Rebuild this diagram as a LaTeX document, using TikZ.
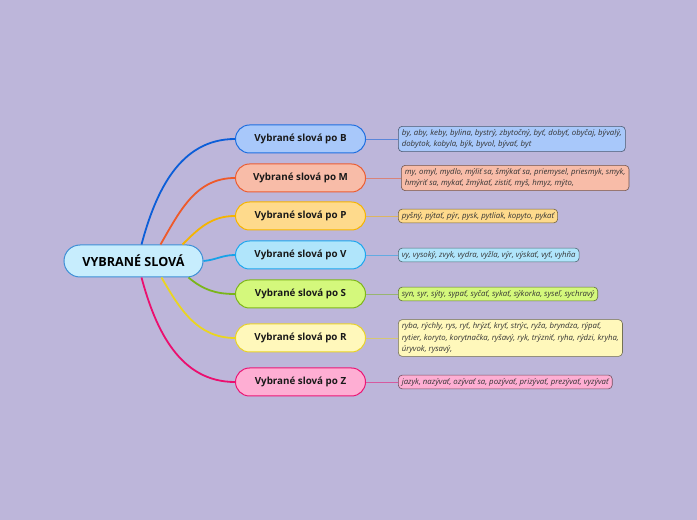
\documentclass[tikz,border=0pt]{standalone}
\usepackage{fontspec}
\setmainfont{Open Sans}
\usetikzlibrary{positioning}

\definecolor{bgcol}{HTML}{BDB6DA}
\definecolor{rootfill}{HTML}{C7EDFD}
\definecolor{rootborder}{HTML}{3D8FD6}
\definecolor{bfill}{HTML}{A8C8FA}
\definecolor{bborder}{HTML}{1F6FE0}
\definecolor{bline}{HTML}{0B5ED8}
\definecolor{mfill}{HTML}{F8BCA8}
\definecolor{mborder}{HTML}{EB5E34}
\definecolor{mline}{HTML}{EE5A2A}
\definecolor{pfill}{HTML}{FEDA8C}
\definecolor{pborder}{HTML}{F6B500}
\definecolor{pline}{HTML}{F5B400}
\definecolor{vfill}{HTML}{B0E5FB}
\definecolor{vborder}{HTML}{1EA7EE}
\definecolor{vline}{HTML}{17A2E8}
\definecolor{sfill}{HTML}{D4F87C}
\definecolor{sborder}{HTML}{7EB61A}
\definecolor{sline}{HTML}{7AB51A}
\definecolor{rfill}{HTML}{FFF8BB}
\definecolor{rborder}{HTML}{E9D22A}
\definecolor{rline}{HTML}{EAD520}
\definecolor{zfill}{HTML}{FEAED3}
\definecolor{zborder}{HTML}{EB1776}
\definecolor{zline}{HTML}{EB0F6F}

\begin{document}
\begin{tikzpicture}[x=1pt, y=1pt, node distance=32pt,
    branch/.style={draw=#1border, fill=#1fill, line width=1pt, rounded corners=14pt,
        minimum width=130pt, minimum height=28pt, text=black!90,
        font=\fontsize{9.8}{11}\selectfont\bfseries},
    leaf/.style={draw=#1fill!45!black, fill=#1fill, line width=0.6pt, rounded corners=4pt,
        inner xsep=3.5pt, inner ysep=3pt, align=left, text=black!80,
        font=\fontsize{7.8}{11.5}\selectfont\itshape},
    twig/.style={draw=#1line!55!bgcol, line width=0.8pt},
    limb/.style={draw=#1line, line width=1.8pt}]
    \fill[bgcol] (0,0) rectangle (697,520);
    \useasboundingbox (0,0) rectangle (697,520);

    % Nodes
    \node (root) at (133.5,259) [draw=rootborder, fill=rootfill, line width=1pt, rounded corners=16pt,
        minimum width=139pt, minimum height=32pt, font=\fontsize{12.6}{14}\selectfont\bfseries] {VYBRANÉ SLOVÁ};

    \node (b) at (300.5,381) [branch=b] {Vybrané slová po B};
    \node (m) at (300.5,342) [branch=m] {Vybrané slová po M};
    \node (p) at (300.5,304) [branch=p] {Vybrané slová po P};
    \node (v) at (300.5,265) [branch=v] {Vybrané slová po V};
    \node (s) at (300.5,226) [branch=s] {Vybrané slová po S};
    \node (r) at (300.5,182) [branch=r] {Vybrané slová po R};
    \node (z) at (300.5,138) [branch=z] {Vybrané slová po Z};

    % Word lists
    \node (words b) [right=of b, leaf=b] {by, aby, keby, bylina, bystrý, zbytočný, byť, dobyť, obyčaj, bývalý,\\
        dobytok, kobyla, býk, byvol, bývať, byt};
    \node (words m) [right=35pt of m, leaf=m] {my, omyl, mydlo, mýliť sa, šmýkať sa, priemysel, priesmyk, smyk,\\
        hmýriť sa, mykať, žmýkať, zistiť, myš, hmyz, mýto,};
    \node (words p) [right=of p, leaf=p] {pyšný, pýtať, pýr, pysk, pytliak, kopyto, pykať};
    \node (words v) [right=of v, leaf=v] {vy, vysoký, zvyk, vydra, vyžla, výr, výskať, vyť, vyhňa};
    \node (words s) [right=of s, leaf=s] {syn, syr, sýty, sypať, syčať, sykať, sýkorka, syseľ, sychravý};
    \node (words r) [right=of r, leaf=r] {ryba, rýchly, rys, ryť, hrýzť, kryť, strýc, ryža, bryndza, rýpať,\\
        rytier, koryto, korytnačka, ryšavý, ryk, trýzniť, ryha, rýdzi, kryha,\\
        úryvok, rysavý,};
    \node (words z) [right=of z, leaf=z] {jazyk, nazývať, ozývať sa, pozývať, prizývať, prezývať, vyzývať};

    % Connectors
    \draw[limb=b] ([xshift=8pt]root.north) to[out=75, in=180] (b.west);
    \draw[limb=m] ([xshift=27pt]root.north) to[out=60, in=180] (m.west);
    \draw[limb=p] ([xshift=49pt]root.north) to[out=45, in=180] (p.west);
    \draw[limb=v] (root.east) to[out=5, in=180] (v.west);
    \draw[limb=s] ([xshift=55pt]root.south) to[out=-40, in=180] (s.west);
    \draw[limb=r] ([xshift=28pt]root.south) to[out=-60, in=180] (r.west);
    \draw[limb=z] ([xshift=8pt]root.south) to[out=-75, in=180] (z.west);

    \foreach \k in {b,m,p,v,s,r,z}
        \draw[twig=\k] (\k.east) -- (words \k.west);
\end{tikzpicture}
\end{document}
